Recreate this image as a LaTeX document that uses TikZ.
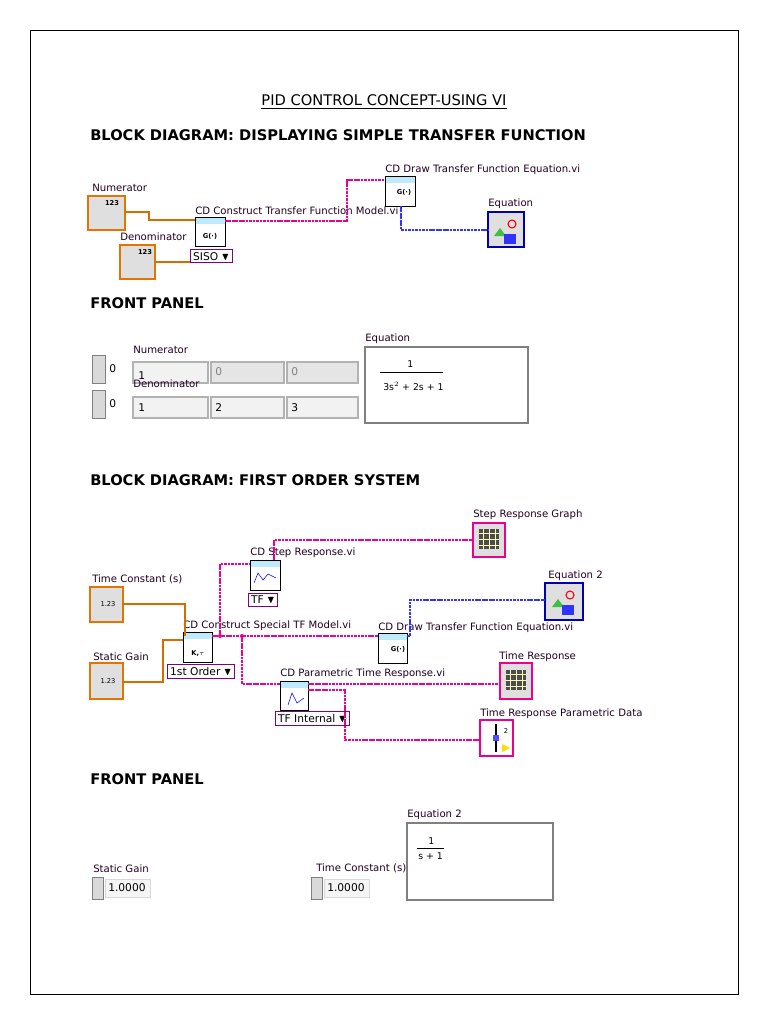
\documentclass[tikz,border=0pt]{standalone}
\usepackage{amssymb}
\usepackage{fontspec}
\setmainfont{DejaVu Sans}
\begin{document}
\begin{tikzpicture}[x=0.75pt,y=-0.75pt,
  lab/.style={font=\fontsize{7.6}{9}\selectfont,text=black!75!violet,anchor=south west,inner sep=0pt},
  head/.style={font=\bfseries\fontsize{11}{13}\selectfont,anchor=west,inner sep=0pt},
  ctl/.style={draw=orange!90!black,line width=1.5pt,fill=gray!25},
  ind/.style={draw=blue!70!black,line width=1.2pt,fill=gray!25},
  pind/.style={draw=magenta,line width=1.2pt,fill=gray!25},
  vi/.style={draw=black,fill=white,line width=0.6pt},
  dd/.style={draw=violet,fill=white,line width=0.8pt,font=\fontsize{8}{9}\selectfont,inner sep=2pt,anchor=north west},
  ow/.style={draw=orange!85!black,line width=1pt},
  pw/.style={draw=magenta,line width=1.6pt,dash pattern=on 2pt off 0.6pt},
  bw/.style={draw=blue!80,line width=1.2pt,dash pattern=on 2pt off 0.6pt},
  fb/.style={draw=gray!60,fill=gray!10,line width=1pt},
  val/.style={font=\fontsize{8}{9}\selectfont,anchor=west,inner sep=0pt},
  eqicon/.pic={\fill[green!50!gray] (-10,6)--(-4,-2)--(2,6)--cycle; \draw[red,thick] (8,-6) circle (4);
    \fill[blue!80] (0,4) rectangle (12,14);},
  grid/.pic={\fill[black!70] (-10,-10) rectangle (10,10); \foreach \i in {-6,0,6}{\draw[white!70!yellow,thin] (\i,-10)--(\i,10) (-10,\i)--(10,\i);}}]
\useasboundingbox (0,0) rectangle (768,1024);
\draw[line width=0.6pt] (30,30) rectangle (738,994);
\node[font=\fontsize{11}{13}\selectfont] (title) at (384,102) {\underline{PID CONTROL CONCEPT-USING VI}};
\node[head] (h1) at (90,135) {BLOCK DIAGRAM: DISPLAYING SIMPLE TRANSFER FUNCTION};
% block diagram 1
\node[lab] (numl) at (92,192) {Numerator};
\draw[ctl] (88,196) rectangle (125,230); \node (num) at (106,213) {};
\node[font=\tiny\bfseries,inner sep=0] at (112,203) {123};
\node[lab] (denl) at (120,241) {Denominator};
\draw[ctl] (120,245) rectangle (155,279); \node (den) at (137,262) {};
\node[font=\tiny\bfseries,inner sep=0] at (145,252) {123};
\node[lab] (cctl) at (195,215) {CD Construct Transfer Function Model.vi};
\draw[vi] (195,217) rectangle (225,246); \fill[cyan!25] (195.5,217.5) rectangle (224.5,224);
\node[font=\tiny\bfseries] (ctf) at (210,236) {G(·)};
\node[dd] (siso) at (190,249) {SISO $\blacktriangledown$};
\draw[ow] (125,212) -- (149,212) -- (149,220) -- (195,220);
\draw[ow] (155,262) -- (190,262);
\node[lab] (drawl) at (385,175) {CD Draw Transfer Function Equation.vi};
\draw[vi] (385,176) rectangle (415,206); \fill[cyan!25] (385.5,176.5) rectangle (414.5,183);
\node[font=\tiny\bfseries] (dtf) at (404,192) {G(·)};
\draw[pw] (225,221) -- (347,221) -- (347,180) -- (385,180);
\node[lab] (eql) at (488,209) {Equation};
\draw[ind] (488,212) rectangle (524,247); \pic at (504,230) {eqicon};
\draw[bw] (401,206) -- (401,230) -- (488,230);
% front panel 1
\node[head] (fp1) at (90,303) {FRONT PANEL};
\foreach \y in {355,390}{\draw[gray,fill=gray!30] (92,\y) rectangle (105,\y+28);
 \node[val] at (109,\y+14) {0};}
\node[lab] at (133,354) {Numerator};
\draw[fb] (133,362) rectangle (208,383); \node[val] at (138,376) {1};
\draw[fb,fill=gray!20] (211,362) rectangle (284,383); \node[val,text=gray] at (215,372) {0};
\draw[fb,fill=gray!20] (287,362) rectangle (358,383); \node[val,text=gray] at (291,372) {0};
\node[lab,fill=none] at (133,388) {Denominator};
\draw[fb] (133,397) rectangle (208,418); \node[val] at (138,408) {1};
\draw[fb] (211,397) rectangle (284,418); \node[val] at (215,408) {2};
\draw[fb] (287,397) rectangle (358,418); \node[val] at (291,408) {3};
\node[lab] at (365,344) {Equation};
\draw[gray,line width=1pt,fill=white] (365,347) rectangle (528,423);
\draw (380,372) -- (443,372);
\node[val,font=\fontsize{7}{8}\selectfont] at (407,364) {1};
\node[val,font=\fontsize{7}{8}\selectfont] at (383,386) {3s$^2$ + 2s + 1};
% block diagram 2
\node[head] (h2) at (90,480) {BLOCK DIAGRAM: FIRST ORDER SYSTEM};
\node[lab] at (473,520) {Step Response Graph};
\draw[pind] (473,523) rectangle (505,557); \pic at (489,539) {grid};
\node[lab] at (250,558) {CD Step Response.vi};
\draw[vi] (250,560) rectangle (280,590); \fill[cyan!25] (250.5,560.5) rectangle (279.5,567);
\draw[blue] (254,583) -- (258,573) -- (263,580) -- (268,574) -- (276,578);
\node[dd] at (248,593) {TF $\blacktriangledown$};
\node[lab] at (92,584) {Time Constant (s)};
\draw[ctl] (90,587) rectangle (123,622); \node[font=\tiny,inner sep=0] at (108,604) {1.23};
\node[lab] at (548,581) {Equation 2};
\draw[ind] (545,583) rectangle (583,620); \pic at (562,601) {eqicon};
\node[lab] at (183,631) {CD Construct Special TF Model.vi};
\draw[vi] (183,632) rectangle (212,662); \fill[cyan!25] (183.5,632.5) rectangle (211.5,639);
\node[font=\tiny\bfseries] at (198,654) {K,$\tau$};
\node[dd] at (167,664) {1st Order $\blacktriangledown$};
\node[lab] at (378,633) {CD Draw Transfer Function Equation.vi};
\draw[vi] (378,633) rectangle (407,663); \fill[cyan!25] (378.5,633.5) rectangle (406.5,640);
\node[font=\tiny\bfseries] at (398,649) {G(·)};
\node[lab] at (93,661) {Static Gain};
\draw[ctl] (90,663) rectangle (123,699); \node[font=\tiny,inner sep=0] at (108,681) {1.23};
\node[lab] at (280,679) {CD Parametric Time Response.vi};
\draw[vi] (280,681) rectangle (308,710); \fill[cyan!25] (280.5,681.5) rectangle (307.5,688);
\draw[blue] (288,705) -- (292,693) -- (297,703) -- (304,698);
\node[dd] at (275,711) {TF Internal $\blacktriangledown$};
\node[lab] at (499,662) {Time Response};
\draw[pind] (500,663) rectangle (532,699); \pic at (516,680) {grid};
\node[lab] at (480,719) {Time Response Parametric Data};
\draw[pind,fill=white] (480,720) rectangle (513,756);
\draw[thick] (496,724) -- (496,752); \fill[blue!70] (493,735) rectangle (499,741);
\node[font=\tiny,inner sep=0] at (506,731) {2}; \fill[yellow!80!orange] (502,744)--(510,748)--(502,752)--cycle;
% wires 2
\draw[ow] (123,604) -- (185,604) -- (185,636);
\draw[ow] (123,682) -- (163,682) -- (163,640) -- (183,640);
\draw[pw] (212,636) -- (378,636);
\draw[pw] (220,636) -- (220,564) -- (250,564);
\draw[pw] (274,560) -- (274,540) -- (473,540);
\draw[pw] (242,636) -- (242,684) -- (280,684);
\draw[pw] (308,684) -- (500,684);
\draw[pw] (308,690) -- (345,690) -- (345,740) -- (480,740);
\draw[bw] (407,636) -- (410,636) -- (410,600) -- (545,600);
\fill[magenta] (220,636) circle (2); \fill[magenta] (242,636) circle (2);
% front panel 2
\node[head] at (90,779) {FRONT PANEL};
\node[lab] at (407,820) {Equation 2};
\draw[gray,line width=1pt,fill=white] (407,823) rectangle (553,900);
\draw (417,848) -- (444,848);
\node[val,font=\fontsize{7}{8}\selectfont] at (428,841) {1};
\node[val,font=\fontsize{7}{8}\selectfont] at (418,856) {s + 1};
\node[lab] at (93,873) {Static Gain};
\draw[gray,fill=gray!30] (92,877) rectangle (103,899);
\draw[fill=gray!8,draw=gray!30] (105,879) rectangle (150,897); \node[val] at (108,888) {1.0000};
\node[lab] at (316,873) {Time Constant (s)};
\draw[gray,fill=gray!30] (311,877) rectangle (322,899);
\draw[fill=gray!8,draw=gray!30] (324,879) rectangle (369,897); \node[val] at (327,888) {1.0000};
\end{tikzpicture}
\end{document}
